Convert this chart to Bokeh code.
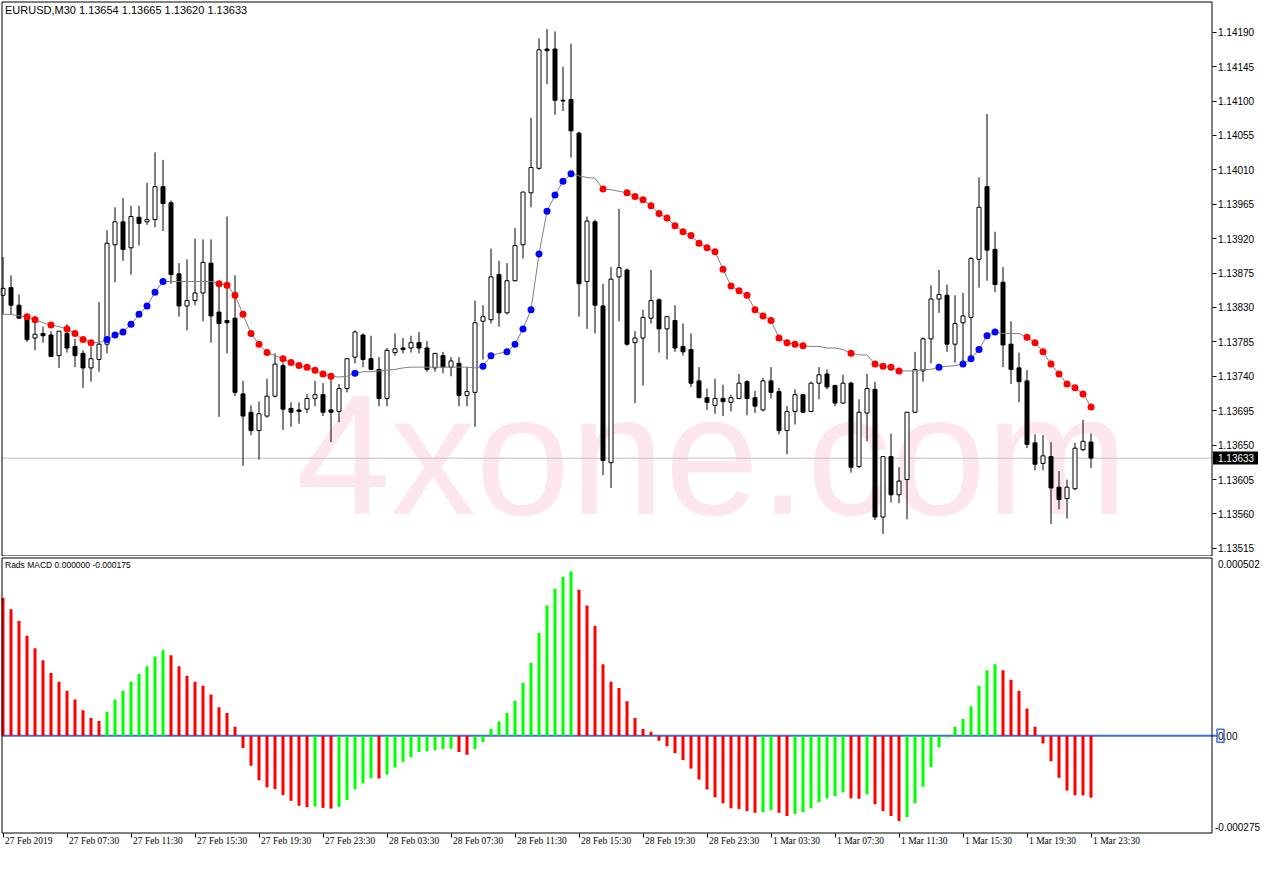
from bokeh.plotting import figure
from bokeh.layouts import column
from bokeh.models import (ColumnDataSource, FixedTicker, Range1d, Label, LabelSet,
                          PrintfTickFormatter, LinearAxis)
from bokeh.embed import file_html
from bokeh.resources import INLINE

# ---------------- data ----------------
chart_title = "EURUSD,M30  1.13654 1.13665 1.13620 1.13633"
macd_title = "Rads MACD 0.000000 -0.000175"
watermark = "4xone.com"
last_price = 1.13633

price_ticks = [1.13515, 1.13560, 1.13605, 1.13650, 1.13695, 1.13740, 1.13785, 1.13830,
               1.13875, 1.13920, 1.13965, 1.14010, 1.14055, 1.14100, 1.14145, 1.14190]
macd_axis_max = 0.000502
macd_axis_min = -0.000275

date_labels = ["27 Feb 2019", "27 Feb 07:30", "27 Feb 11:30", "27 Feb 15:30", "27 Feb 19:30",
               "27 Feb 23:30", "28 Feb 03:30", "28 Feb 07:30", "28 Feb 11:30", "28 Feb 15:30",
               "28 Feb 19:30", "28 Feb 23:30", "1 Mar 03:30", "1 Mar 07:30", "1 Mar 11:30",
               "1 Mar 15:30", "1 Mar 19:30", "1 Mar 23:30"]

open_ = [
    1.13846, 1.13856, 1.13833, 1.13817, 1.13790, 1.13796, 1.13794, 1.13767, 1.13796, 1.13779,
    1.13770, 1.13751, 1.13762, 1.13782, 1.13912, 1.13942, 1.13908, 1.13948, 1.13942, 1.13945,
    1.13988, 1.13967, 1.13874, 1.13832, 1.13839, 1.13849, 1.13888, 1.13824, 1.13813, 1.13816,
    1.13717, 1.13693, 1.13669, 1.13688, 1.13714, 1.13754, 1.13698, 1.13696, 1.13697, 1.13711,
    1.13716, 1.13696, 1.13694, 1.13724, 1.13765, 1.13794, 1.13763, 1.13749, 1.13711, 1.13771,
    1.13777, 1.13777, 1.13784, 1.13777, 1.13751, 1.13767, 1.13752, 1.13757, 1.13715, 1.13719,
    1.13812, 1.13814, 1.13873, 1.13823, 1.13865, 1.13912, 1.13980, 1.14012, 1.14168, 1.14168,
    1.14101, 1.14102, 1.14058, 1.13864, 1.13942, 1.13832, 1.13627, 1.13870, 1.13879, 1.13784,
    1.13790, 1.13816, 1.13840, 1.13802, 1.13813, 1.13779, 1.13775, 1.13734, 1.13712, 1.13702,
    1.13711, 1.13706, 1.13711, 1.13733, 1.13712, 1.13696, 1.13734, 1.13720, 1.13669, 1.13694,
    1.13716, 1.13694, 1.13731, 1.13743, 1.13728, 1.13705, 1.13731, 1.13622, 1.13692, 1.13723,
    1.13556, 1.13635, 1.13585, 1.13605, 1.13693, 1.13747, 1.13789, 1.13841, 1.13846, 1.13782,
    1.13810, 1.13817, 1.13893, 1.13988, 1.13906, 1.13863, 1.13782, 1.13751, 1.13734, 1.13653,
    1.13626, 1.13635, 1.13595, 1.13580, 1.13593, 1.13644, 1.13654]

high = [
    1.13896, 1.13872, 1.13847, 1.13821, 1.13819, 1.13805, 1.13799, 1.13799, 1.13808, 1.13789,
    1.13774, 1.13779, 1.13837, 1.13931, 1.13961, 1.13973, 1.13963, 1.13963, 1.13993, 1.14033,
    1.14023, 1.13970, 1.13888, 1.13893, 1.13920, 1.13919, 1.13919, 1.13863, 1.13949, 1.13872,
    1.13734, 1.13702, 1.13707, 1.13737, 1.13770, 1.13758, 1.13706, 1.13706, 1.13717, 1.13734,
    1.13731, 1.13738, 1.13730, 1.13763, 1.13800, 1.13796, 1.13793, 1.13765, 1.13777, 1.13796,
    1.13790, 1.13793, 1.13798, 1.13786, 1.13770, 1.13772, 1.13765, 1.13765, 1.13752, 1.13839,
    1.13833, 1.13907, 1.13891, 1.13888, 1.13934, 1.13981, 1.14078, 1.14182, 1.14194, 1.14191,
    1.14145, 1.14175, 1.14060, 1.13949, 1.13945, 1.13861, 1.13883, 1.13959, 1.13881, 1.13799,
    1.13827, 1.13879, 1.13842, 1.13819, 1.13833, 1.13809, 1.13796, 1.13752, 1.13724, 1.13737,
    1.13729, 1.13716, 1.13743, 1.13735, 1.13721, 1.13738, 1.13752, 1.13725, 1.13701, 1.13723,
    1.13717, 1.13733, 1.13752, 1.13749, 1.13729, 1.13742, 1.13733, 1.13710, 1.13743, 1.13733,
    1.13635, 1.13665, 1.13621, 1.13693, 1.13772, 1.13791, 1.13859, 1.13879, 1.13860, 1.13846,
    1.13849, 1.13896, 1.14000, 1.14083, 1.13929, 1.13883, 1.13812, 1.13771, 1.13748, 1.13664,
    1.13663, 1.13654, 1.13616, 1.13605, 1.13653, 1.13683, 1.13665]

low = [
    1.13821, 1.13821, 1.13816, 1.13785, 1.13774, 1.13784, 1.13766, 1.13751, 1.13771, 1.13752,
    1.13725, 1.13733, 1.13746, 1.13770, 1.13863, 1.13891, 1.13873, 1.13911, 1.13938, 1.13935,
    1.13930, 1.13861, 1.13818, 1.13800, 1.13833, 1.13812, 1.13784, 1.13687, 1.13770, 1.13714,
    1.13623, 1.13663, 1.13631, 1.13686, 1.13712, 1.13670, 1.13674, 1.13678, 1.13692, 1.13701,
    1.13688, 1.13654, 1.13680, 1.13719, 1.13757, 1.13752, 1.13748, 1.13701, 1.13701, 1.13767,
    1.13770, 1.13771, 1.13770, 1.13746, 1.13746, 1.13744, 1.13740, 1.13701, 1.13701, 1.13674,
    1.13762, 1.13809, 1.13805, 1.13821, 1.13864, 1.13894, 1.13961, 1.14010, 1.14122, 1.14082,
    1.14087, 1.14026, 1.13818, 1.13802, 1.13796, 1.13611, 1.13594, 1.13812, 1.13780, 1.13705,
    1.13728, 1.13809, 1.13771, 1.13762, 1.13772, 1.13767, 1.13726, 1.13712, 1.13696, 1.13691,
    1.13688, 1.13694, 1.13710, 1.13689, 1.13692, 1.13694, 1.13711, 1.13664, 1.13638, 1.13677,
    1.13692, 1.13693, 1.13710, 1.13723, 1.13701, 1.13704, 1.13614, 1.13620, 1.13655, 1.13552,
    1.13534, 1.13575, 1.13574, 1.13553, 1.13692, 1.13733, 1.13757, 1.13823, 1.13772, 1.13758,
    1.13754, 1.13762, 1.13856, 1.13865, 1.13850, 1.13752, 1.13730, 1.13706, 1.13646, 1.13617,
    1.13617, 1.13547, 1.13566, 1.13554, 1.13591, 1.13642, 1.13620]

close = [
    1.13855, 1.13833, 1.13816, 1.13788, 1.13795, 1.13793, 1.13766, 1.13799, 1.13777, 1.13767,
    1.13751, 1.13763, 1.13782, 1.13914, 1.13942, 1.13906, 1.13949, 1.13940, 1.13945, 1.13988,
    1.13966, 1.13873, 1.13832, 1.13839, 1.13849, 1.13889, 1.13819, 1.13809, 1.13810, 1.13719,
    1.13688, 1.13669, 1.13691, 1.13714, 1.13756, 1.13697, 1.13693, 1.13694, 1.13711, 1.13716,
    1.13693, 1.13693, 1.13724, 1.13763, 1.13798, 1.13762, 1.13749, 1.13711, 1.13774, 1.13776,
    1.13775, 1.13784, 1.13777, 1.13749, 1.13770, 1.13752, 1.13760, 1.13715, 1.13720, 1.13810,
    1.13818, 1.13870, 1.13823, 1.13865, 1.13911, 1.13981, 1.14013, 1.14167, 1.14166, 1.14101,
    1.14100, 1.14061, 1.13861, 1.13943, 1.13833, 1.13630, 1.13867, 1.13882, 1.13782, 1.13790,
    1.13817, 1.13839, 1.13802, 1.13818, 1.13777, 1.13772, 1.13731, 1.13712, 1.13706, 1.13711,
    1.13707, 1.13712, 1.13731, 1.13711, 1.13701, 1.13734, 1.13719, 1.13669, 1.13694, 1.13716,
    1.13693, 1.13731, 1.13742, 1.13726, 1.13705, 1.13731, 1.13621, 1.13693, 1.13724, 1.13556,
    1.13635, 1.13585, 1.13603, 1.13693, 1.13749, 1.13789, 1.13841, 1.13847, 1.13782, 1.13809,
    1.13819, 1.13894, 1.13961, 1.13905, 1.13860, 1.13781, 1.13749, 1.13733, 1.13651, 1.13625,
    1.13636, 1.13594, 1.13579, 1.13595, 1.13646, 1.13655, 1.13633]

# trend line (indicator) values
trend_line = [
    1.13821, 1.13821, 1.13819, 1.13818, 1.13814, 1.13810, 1.13807, 1.13805, 1.13802, 1.13796,
    1.13788, 1.13784, 1.13784, 1.13788, 1.13794, 1.13798, 1.13808, 1.13821, 1.13832, 1.13850,
    1.13864, 1.13864, 1.13864, 1.13864, 1.13864, 1.13864, 1.13864, 1.13861, 1.13859, 1.13846,
    1.13821, 1.13796, 1.13782, 1.13771, 1.13767, 1.13763, 1.13758, 1.13754, 1.13752, 1.13748,
    1.13743, 1.13740, 1.13739, 1.13740, 1.13744, 1.13746, 1.13746, 1.13747, 1.13748, 1.13749,
    1.13751, 1.13752, 1.13752, 1.13752, 1.13752, 1.13752, 1.13752, 1.13752, 1.13752, 1.13751,
    1.13753, 1.13767, 1.13770, 1.13772, 1.13782, 1.13802, 1.13827, 1.13900, 1.13956, 1.13977,
    1.13995, 1.14005, 1.14002, 1.14000, 1.13999, 1.13985, 1.13984, 1.13982, 1.13980, 1.13975,
    1.13971, 1.13963, 1.13953, 1.13947, 1.13937, 1.13929, 1.13924, 1.13914, 1.13908, 1.13903,
    1.13880, 1.13858, 1.13852, 1.13846, 1.13827, 1.13819, 1.13813, 1.13790, 1.13784, 1.13782,
    1.13780, 1.13779, 1.13779, 1.13777, 1.13777, 1.13775, 1.13770, 1.13768, 1.13768, 1.13756,
    1.13753, 1.13752, 1.13747, 1.13747, 1.13747, 1.13749, 1.13749, 1.13752, 1.13753, 1.13754,
    1.13756, 1.13763, 1.13775, 1.13793, 1.13798, 1.13796, 1.13796, 1.13796, 1.13791, 1.13784,
    1.13772, 1.13756, 1.13743, 1.13730, 1.13725, 1.13717, 1.13700]

# dot state per bar: 'u' = blue (up), 'd' = red (down), '.' = no dot
trend_dots = ("..." "dd" "." "d" "." "dddd" "." "uuuuuuuu" "......" "ddddddd" "." "ddddddd"
              ".." "u" "..............." "uu" "." "uuuuuuuuu" "..." "d" ".."
              "ddddddddddddddddddddddd" "....." "d" ".." "dddd" "...." "u" ".." "uuuuu"
              "..." "ddddddddd")

macd = [
    390e-6, 357e-6, 324e-6, 282e-6, 247e-6, 213e-6, 177e-6, 152e-6, 127e-6, 102e-6,
    72e-6, 50e-6, 41.5e-6, 67e-6, 102e-6, 127e-6, 152e-6, 174e-6, 196e-6, 224e-6,
    241e-6, 227e-6, 196e-6, 169e-6, 152e-6, 141e-6, 116e-6, 80e-6, 64e-6, 25e-6,
    -35e-6, -85e-6, -126e-6, -146e-6, -151e-6, -168e-6, -184e-6, -198e-6, -202e-6, -200e-6,
    -204e-6, -206e-6, -201e-6, -182e-6, -151e-6, -135e-6, -120e-6, -121e-6, -110e-6, -90e-6,
    -74e-6, -60e-6, -46e-6, -43e-6, -41e-6, -38e-6, -37e-6, -46e-6, -54e-6, -38e-6,
    -18e-6, 19e-6, 40e-6, 64e-6, 99e-6, 149e-6, 205e-6, 290e-6, 368e-6, 415e-6,
    448e-6, 464e-6, 412e-6, 368e-6, 310e-6, 202e-6, 152e-6, 135e-6, 97e-6, 50e-6,
    19e-6, 11e-6, -14e-6, -30e-6, -50e-6, -69e-6, -93e-6, -124e-6, -152e-6, -174e-6,
    -191e-6, -205e-6, -207e-6, -213e-6, -218e-6, -216e-6, -210e-6, -218e-6, -227e-6, -221e-6,
    -216e-6, -205e-6, -188e-6, -177e-6, -171e-6, -160e-6, -177e-6, -178e-6, -166e-6, -194e-6,
    -213e-6, -227e-6, -241e-6, -230e-6, -191e-6, -144e-6, -89e-6, -33e-6, -5.5e-6, 25e-6,
    47e-6, 83e-6, 141e-6, 185e-6, 202e-6, 185e-6, 158e-6, 127e-6, 77e-6, 25e-6,
    -22e-6, -72e-6, -119e-6, -155e-6, -168e-6, -169e-6, -175e-6]

# histogram direction per bar: 'u' = rising (green), 'd' = falling (red)
macd_dir = ("ddddddddddddd" "uuuuuuuu" "dddddddddddddddddd" "u" "dd" "uuuuu" "d"
            "uuuuuuuuu" "dd" "uuuuuuuuuuuuu" "ddddddddddddddddddddddd" "uu" "dd"
            "uuuuuuu" "dd" "u" "dddd" "uuuuuuuuuuuu" "dddddddddddd")

# ---------------- layout ----------------
FONT = "Liberation Sans"
WM_SIZE = 170

W = 1260
TOP_H = 556
BOT_H = 298
PANEL_W = 1210          # width of the drawing panels (px)
PX = 1.0 / 8            # data units per pixel: 8 px per bar
X0 = -0.125             # left edge of panels (data)
X1 = X0 + PANEL_W * PX  # right edge of panels (data)
XR = Range1d(X0 - 1.5 * PX, X0 - 1.5 * PX + W * PX)

Y0, Y1 = 1.13505, 1.142295
TOP_PANEL_H = TOP_H - 2
PY = (Y1 - Y0) / TOP_PANEL_H
BOT_PANEL_H = 275
MPY = (macd_axis_max - macd_axis_min) / BOT_PANEL_H

n = len(close)
xs = list(range(n))

# ---------------- price panel ----------------
p = figure(width=W, height=TOP_H, x_range=XR,
           y_range=Range1d(Y0 - 0.5 * PY, Y1 + 1.5 * PY),
           x_axis_location=None, y_axis_location=None, output_backend="svg",
           toolbar_location=None, min_border_left=0, min_border_right=0,
           min_border_top=0, min_border_bottom=0, outline_line_color=None,
           background_fill_color="white", border_fill_color="white")
p.xgrid.visible = False
p.ygrid.visible = False
p.grid.visible = False

ya = LinearAxis(fixed_location=X1)
ya.ticker = FixedTicker(ticks=price_ticks)
ya.formatter = PrintfTickFormatter(format="%.5f")
ya.major_label_text_font = FONT
ya.major_label_text_font_size = "10px"
ya.major_label_text_color = "black"
ya.axis_line_color = None
ya.major_tick_in = 0
ya.major_tick_out = 4
ya.major_tick_line_color = "black"
ya.minor_tick_line_color = None
ya.major_label_standoff = 2
p.add_layout(ya, "right")

wm = Label(x=88.6, y=1.13563 + (0.28 * WM_SIZE + 9) * PY, text=watermark, text_font=FONT,
           text_font_size="%dpx" % WM_SIZE, text_color="#fde6ee", text_align="center",
           text_baseline="middle", level="underlay")
p.add_layout(wm)

# current price line
p.segment(x0=[X0], y0=[last_price], x1=[X1], y1=[last_price], line_color="#c0c0c0",
          line_width=1)

tops = [max(o, c) for o, c in zip(open_, close)]
bots = [min(o, c) for o, c in zip(open_, close)]
fills = ["white" if c > o else "black" for o, c in zip(open_, close)]
csrc = ColumnDataSource(dict(x=xs, high=high, low=low, top=tops, bottom=bots, fill=fills))
p.segment(x0="x", y0="high", x1="x", y1="low", source=csrc, line_color="black", line_width=1)
p.vbar(x="x", width=0.5, top="top", bottom="bottom", source=csrc, fill_color="fill",
       line_color="black", line_width=1)

p.line(xs, trend_line, line_color="#808080", line_width=1)
dot_x = [i for i, s in zip(xs, trend_dots) if s != "."]
dot_y = [v for v, s in zip(trend_line, trend_dots) if s != "."]
dot_c = ["#0000ff" if s == "u" else "#ff0000" for s in trend_dots if s != "."]
p.scatter(dot_x, dot_y, size=7, fill_color=dot_c, line_color=None)

# panel border
p.quad(left=[X0], right=[X1], bottom=[Y0], top=[Y1], fill_color=None, line_color="black",
       line_width=1)

# current price marker on the price scale
p.quad(left=[X1 + 1 * PX], right=[X1 + 46 * PX], bottom=[last_price - 6.5 * PY],
       top=[last_price + 6.5 * PY], fill_color="black", line_color=None)
p.add_layout(Label(x=X1, y=last_price, x_offset=6, text="%.5f" % last_price, text_font=FONT,
                   text_font_size="10px", text_color="white", text_baseline="middle"))

p.add_layout(Label(x=X0, y=Y1, x_offset=3, y_offset=-2, text=chart_title, text_font=FONT,
                   text_font_size="11px", text_baseline="top", text_color="black"))

# ---------------- MACD panel ----------------
p2 = figure(width=W, height=BOT_H, x_range=XR,
            y_range=Range1d(macd_axis_min - (BOT_H - 1.5 - BOT_PANEL_H) * MPY,
                            macd_axis_max + 1.5 * MPY),
            x_axis_location=None, y_axis_location=None, output_backend="svg",
            toolbar_location=None, min_border_left=0, min_border_right=0,
            min_border_top=0, min_border_bottom=0, outline_line_color=None,
            background_fill_color="white", border_fill_color="white")
p2.xgrid.visible = False
p2.ygrid.visible = False
p2.grid.visible = False

my = LinearAxis(fixed_location=X1)
my.ticker = FixedTicker(ticks=[0])
my.formatter = PrintfTickFormatter(format="%.2f")
my.major_label_text_font = FONT
my.major_label_text_font_size = "10px"
my.major_label_text_color = "black"
my.axis_line_color = None
my.major_tick_in = 0
my.major_tick_out = 4
my.major_tick_line_color = "#4169e1"
my.minor_tick_line_color = None
my.major_label_standoff = 2
p2.add_layout(my, "right")

label_idx = list(range(0, n, 8))
mx = LinearAxis(fixed_location=macd_axis_min)
mx.ticker = FixedTicker(ticks=label_idx)
mx.major_label_text_color = None
mx.axis_line_color = None
mx.major_tick_in = 0
mx.major_tick_out = 4
mx.major_tick_line_color = "black"
mx.minor_tick_line_color = None
p2.add_layout(mx, "below")

# zero level line and its marker on the axis
p2.segment(x0=[X0], y0=[0], x1=[X1 + 5 * PX], y1=[0], line_color="#4169e1", line_width=2)
p2.quad(left=[X1 + 5 * PX], right=[X1 + 12 * PX], bottom=[-6.5 * MPY], top=[6.5 * MPY],
        fill_color=None, line_color="#4169e1", line_width=1.5)

bar_c = ["#00ff00" if s == "u" else "#ff0000" for s in macd_dir]
msrc = ColumnDataSource(dict(x=xs, top=macd, c=bar_c))
p2.vbar(x="x", width=0.375, top="top", bottom=0, source=msrc, fill_color="c", line_color=None)

p2.quad(left=[X0], right=[X1], bottom=[macd_axis_min], top=[macd_axis_max],
        fill_color=None, line_color="black", line_width=1)

p2.add_layout(Label(x=X0, y=macd_axis_max, x_offset=3, y_offset=-2, text=macd_title,
                    text_font=FONT, text_font_size="8.5px", text_baseline="top",
                    text_color="black"))
p2.add_layout(Label(x=X1, y=macd_axis_max, x_offset=6, y_offset=-2,
                    text="%.6f" % macd_axis_max, text_font=FONT, text_font_size="10px",
                    text_baseline="top", text_color="black"))
p2.add_layout(Label(x=X1, y=macd_axis_min, x_offset=3, y_offset=2,
                    text="%.6f" % macd_axis_min, text_font=FONT, text_font_size="10px",
                    text_baseline="bottom", text_color="black"))

dsrc = ColumnDataSource(dict(x=label_idx, text=date_labels))
p2.add_layout(LabelSet(x="x", y=macd_axis_min, text="text", source=dsrc,
                       x_offset=2, y_offset=-3, text_font=FONT, text_font_size="9.5px",
                       text_baseline="top", text_align="left", text_color="black"))

layout = column(p, p2, spacing=0)
with open("out.html", "w", encoding="utf-8") as f:
    f.write(file_html(layout, INLINE))
